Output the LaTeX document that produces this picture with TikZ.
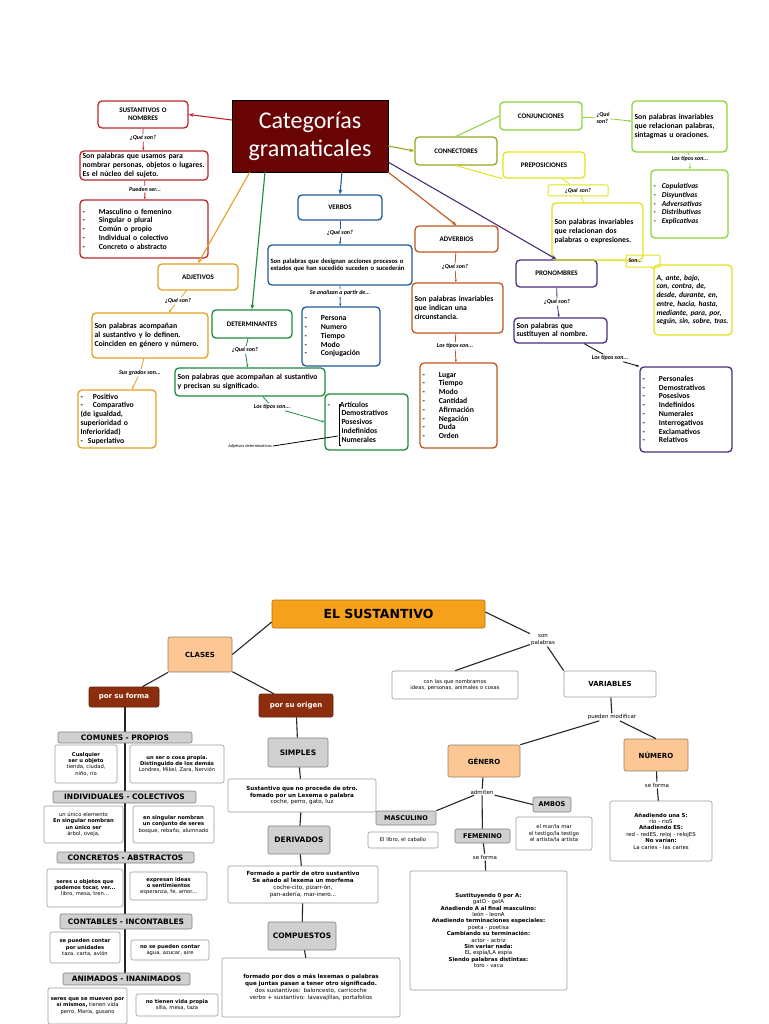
\documentclass[tikz,border=0pt]{standalone}
\usepackage{fontspec}
\setmainfont{Carlito}
\newfontfamily\dv{DejaVu Sans}
\usetikzlibrary{arrows.meta}
\definecolor{cR}{HTML}{B8262E}\definecolor{cO}{HTML}{E3A020}\definecolor{cG}{HTML}{1E8A3C}
\definecolor{cB}{HTML}{1F5A96}\definecolor{cBr}{HTML}{C0561F}\definecolor{cP}{HTML}{4A2C7C}
\definecolor{cOl}{HTML}{9AA61E}\definecolor{cL}{HTML}{8CD43A}\definecolor{cY}{HTML}{E2E21C}
\definecolor{tit}{HTML}{6A0505}\definecolor{oT}{HTML}{F6A11C}\definecolor{oL}{HTML}{FCC794}
\definecolor{bR}{HTML}{8C2E0D}\definecolor{gH}{HTML}{D0D0D0}
\hyphenpenalty=10000 \exhyphenpenalty=10000
\newcommand\bx[7]{%
 \pgfmathsetmacro\bxcx{(#2+#4)/2}\pgfmathsetmacro\bxcy{(#3+#5)/2}%
 \pgfmathsetmacro\bxw{#4-#2}\pgfmathsetmacro\bxh{#5-#3}\pgfmathsetmacro\bxt{#4-#2-5}%
 \node[#6,minimum width=\bxw pt,minimum height=\bxh pt,text width=\bxt pt] (#1) at (\bxcx,\bxcy) {#7};}
\tikzset{
 tb/.style={draw,rounded corners=4pt,line width=1.3pt,inner sep=2pt,font=\fontsize{7.7}{8.8}\selectfont\bfseries,align=left},
 tc/.style={tb,align=center,font=\fontsize{7}{8}\selectfont\bfseries},
 q/.style={font=\fontsize{6}{6.8}\selectfont\bfseries\itshape,inner sep=1pt},
 ar/.style={-{Stealth[length=5pt]},line width=1.1pt},
 bb/.style={draw=gray!80,rounded corners=2pt,line width=.6pt,fill=white,inner sep=1.5pt,font=\dv\fontsize{5.2}{6.3}\selectfont,align=center},
 gh/.style={bb,fill=gH,draw=gray,font=\dv\fontsize{7.5}{8}\selectfont\bfseries},
 lb/.style={bb,fill=oL,draw=gray!70!brown,font=\dv\fontsize{7}{8}\selectfont\bfseries},
 brw/.style={bb,fill=bR,draw=bR!70!black,text=white,font=\dv\fontsize{7}{8}\selectfont\bfseries},
 ln/.style={line width=1.1pt,black!85},
 sl/.style={font=\dv\fontsize{5.5}{6.5}\selectfont,inner sep=1pt,fill=white,align=center}
}
\newcommand\li{-\hspace{14pt}}
\begin{document}
\begin{tikzpicture}[x=1pt,y=-1pt]
\useasboundingbox[fill=white] (0,0) rectangle (768,1024);
% ===== top =====
\bx{T}{232}{100}{388}{172}{fill=tit,draw=black,text=white,inner sep=2pt,font=\fontsize{24}{28}\selectfont,align=center}{Categorías\\gramaticales}
\bx{S}{98}{101}{188}{128}{tc,draw=cR}{SUSTANTIVOS O\\NOMBRES}
\node[q] (Sq) at (143,138) {¿Qué son?};
\bx{S1}{80}{151}{208}{180}{tb,draw=cR}{Son palabras que usamos para nombrar personas, objetos o lugares. Es el núcleo del sujeto.}
\node[q] (Sp) at (145,189) {Pueden ser...};
\bx{S2}{80}{200}{208}{258}{tb,draw=cR}{\li Masculino o femenino\\\li Singular o plural\\\li Común o propio\\\li Individual o colectivo\\\li Concreto o abstracto}
\bx{A}{158}{264}{238}{290}{tc,draw=cO}{ADJETIVOS}
\node[q] (Aq) at (178,301) {¿Qué son?};
\bx{A1}{92}{313}{208}{358}{tb,draw=cO,font=\fontsize{7.8}{9.2}\selectfont\bfseries}{Son palabras acompañan al sustantivo y lo definen. Coinciden en género y número.}
\node[q] (Ag) at (140,373) {Sus grados son...};
\bx{A2}{78}{390}{156}{448}{tb,draw=cO}{-\hspace{10pt}Positivo\\-\hspace{10pt}Comparativo\\(de igualdad, superioridad o Inferioridad)\\- \ Superlativo}
\bx{D}{212}{310}{292}{338}{tc,draw=cG}{DETERMINANTES}
\node[q] (Dq) at (245,350) {¿Qué son?};
\bx{D1}{175}{368}{325}{396}{tb,draw=cG}{Son palabras que acompañan al sustantivo y precisan su significado.}
\node[q] (Dt) at (272,407) {Los tipos son...};
\bx{D2}{325}{394}{408}{450}{tb,draw=cG}{-\hspace{10pt}Artículos\\\hspace{14pt}Demostrativos\\\hspace{14pt}Posesivos\\\hspace{14pt}Indefinidos\\\hspace{14pt}Numerales}
\draw[line width=.7pt] (341,404) -- (339,404) -- (339,445) -- (341,445);
\node[q,font=\fontsize{4.3}{5}\selectfont] (Dad) at (250,446) {Adjetivos determinativos};
\coordinate (Dbr) at (338,436);
\draw[line width=.8pt] (Dad.east) -- (Dbr);
\bx{V}{298}{195}{382}{220}{tc,draw=cB}{VERBOS}
\node[q] (Vq) at (340,233) {¿Qué son?};
\bx{V1}{268}{245}{412}{285}{tb,draw=cB,font=\fontsize{6.6}{7.4}\selectfont\bfseries}{Son palabras que designan acciones procesos o estados que han sucedido suceden o sucederán}
\node[q] (Va) at (340,293) {Se analizan a partir de...};
\bx{V2}{302}{307}{380}{366}{tb,draw=cB}{\li Persona\\\li Numero\\\li Tiempo\\\li Modo\\\li Conjugación}
\bx{AD}{415}{226}{498}{252}{tc,draw=cBr}{ADVERBIOS}
\node[q] (ADq) at (455,267) {¿Qué son?};
\bx{AD1}{412}{283}{503}{333}{tb,draw=cBr}{Son palabras invariables que indican una circunstancia.}
\node[q] (ADt) at (455,346) {Los tipos son...};
\bx{AD2}{420}{363}{497}{448}{tb,draw=cBr}{\li Lugar\\\li Tiempo\\\li Modo\\\li Cantidad\\\li Afirmación\\\li Negación\\\li Duda\\\li Orden}
\bx{P}{516}{260}{597}{287}{tc,draw=cP}{PRONOMBRES}
\node[q] (Pq) at (557,302) {¿Qué son?};
\bx{P1}{514}{318}{607}{343}{tb,draw=cP}{Son palabras que sustituyen al nombre.}
\node[q] (Pt) at (610,358) {Los tipos son...};
\bx{P2}{640}{367}{732}{452}{tb,draw=cP}{\li Personales\\\li Demostrativos\\\li Posesivos\\\li Indefinidos\\\li Numerales\\\li Interrogativos\\\li Exclamativos\\\li Relativos}
\bx{C}{415}{137}{497}{165}{tc,draw=cOl}{CONNECTORES}
\bx{CJ}{500}{102}{582}{130}{tc,draw=cL}{CONJUNCIONES}
\node[q,align=left] (CJq) at (603,118) {¿Qué\\son?};
\bx{CJ1}{632}{101}{727}{152}{tb,draw=cL}{Son palabras invariables que relacionan palabras, sintagmas u oraciones.}
\node[q] (CJt) at (690,159) {Los tipos son...};
\bx{CJ2}{651}{170}{728}{238}{tb,draw=cL,font=\fontsize{7.5}{8.8}\selectfont\bfseries\itshape}{-\hspace{6pt}Copulativas\\-\hspace{6pt}Disyuntivas\\-\hspace{6pt}Adversativas\\-\hspace{6pt}Distributivas\\-\hspace{6pt}Explicativas}
\bx{PR}{503}{152}{585}{178}{tc,draw=cY}{PREPOSICIONES}
\bx{PRq}{548}{185}{608}{196}{tc,draw=cY,rounded corners=1pt,line width=1pt,font=\fontsize{5.8}{6.2}\selectfont\bfseries\itshape,inner sep=0pt}{¿Qué son?}
\bx{PR1}{552}{203}{643}{260}{tb,draw=cY}{Son palabras invariables que relacionan dos palabras o expresiones.}
\bx{PRs}{626}{255}{660}{267}{tb,draw=cY,rounded corners=1pt,line width=1pt,font=\fontsize{5.8}{6.2}\selectfont\bfseries\itshape,inner sep=0pt}{Son...}
\bx{PR2}{654}{265}{732}{335}{tb,draw=cY,font=\fontsize{7.5}{8.7}\selectfont\bfseries\itshape}{A, ante, bajo, con, contra, de, desde, durante, en, entre, hacia, hasta, mediante, para, por, según, sin, sobre, tras.}
% top connectors
\draw[ar,cR] (T.west|-0,120) -- (S.east);
\draw[ar,cO] (T.south west)++(18,0) -- (A.north);
\draw[ar,cG] (265,172) -- (D.north);
\draw[ar,cB] (342,172) -- (V.north);
\draw[ar,cBr] (388,172) -- (AD.north);
\draw[ar,cP] (388,162) -- (P.north);
\draw[ar,cOl] (388,146) -- (C.west);
\draw[line width=1pt,cL] (C.north) -- (CJ.west);
\draw[line width=1pt,cY] (C.south) -- (PR.south west);
\draw[line width=.8pt,cR,-{Stealth[length=3pt]}] (S) -- (Sq) -- (S1);
\draw[line width=.8pt,cR,-{Stealth[length=3pt]}] (S1) -- (Sp) -- (S2);
\draw[line width=.8pt,cO,-{Stealth[length=3pt]}] (A) -- (Aq) -- (A1);
\draw[line width=.8pt,cO,-{Stealth[length=3pt]}] (A1) -- (Ag) -- (A2);
\draw[line width=.8pt,cG,-{Stealth[length=3pt]}] (D) -- (Dq) -- (D1);
\draw[line width=.8pt,cG,-{Stealth[length=3pt]}] (D1) -- (Dt) -- (D2.west);
\draw[line width=.8pt,cB,-{Stealth[length=3pt]}] (V) -- (Vq) -- (V1);
\draw[line width=.8pt,cB,-{Stealth[length=3pt]}] (V1) -- (Va) -- (V2);
\draw[line width=.8pt,cBr,-{Stealth[length=3pt]}] (AD) -- (ADq) -- (AD1);
\draw[line width=.8pt,cBr,-{Stealth[length=3pt]}] (AD1) -- (ADt) -- (AD2);
\draw[line width=.8pt,cP,-{Stealth[length=3pt]}] (P) -- (Pq) -- (P1);
\draw[line width=.8pt,black,-{Stealth[length=3pt]}] (P1) -- (Pt) -- (P2.north west);
\draw[line width=.8pt,cL,-{Stealth[length=3pt]}] (CJ) -- (CJq) -- (CJ1);
\draw[line width=.8pt,cL,-{Stealth[length=3pt]}] (CJ1) -- (CJt) -- (CJ2);
\draw[line width=.8pt,cY] (PR) -- (PRq) -- (PR1);
\draw[line width=.8pt,cY] (PR1.south) -- (PRs) -- (PR2);
% ===== bottom =====
\coordinate (sp0) at (125,707); \coordinate (sp1) at (125,985);
\draw[ln] (sp0) -- (sp1);
\bx{E}{272}{600}{485}{628}{bb,fill=oT,draw=oT!70!black,font=\dv\fontsize{12.5}{14}\selectfont\bfseries}{EL SUSTANTIVO}
\bx{CL}{168}{637}{232}{672}{lb}{CLASES}
\node[sl] (sp) at (543,640) {son\\palabras};
\bx{cq}{392}{671}{518}{699}{bb}{con las que nombramos\\ideas, personas, animales o cosas}
\bx{VA}{564}{671}{656}{697}{bb,font=\dv\fontsize{7}{8}\selectfont\bfseries}{VARIABLES}
\node[sl] (pm) at (612,717) {pueden modificar};
\bx{GE}{448}{745}{520}{777}{lb}{GÉNERO}
\bx{NU}{624}{739}{688}{771}{lb}{NÚMERO}
\node[sl] (adm) at (482,792) {admiten};
\bx{MA}{376}{811}{436}{825}{gh,font=\dv\fontsize{6.5}{7}\selectfont\bfseries}{MASCULINO}
\bx{MA1}{368}{832}{438}{848}{bb}{El libro, el caballo}
\bx{FE}{455}{829}{510}{843}{gh,font=\dv\fontsize{6.5}{7}\selectfont\bfseries}{FEMENINO}
\node[sl] (fsf) at (485,857) {se forma};
\bx{FE1}{410}{871}{567}{990}{bb,font=\dv\fontsize{5.4}{6.4}\selectfont}{\textbf{Sustituyendo 0 por A:}\\gatO - gatA\\\textbf{Añadiendo A al final masculino:}\\león - leonA\\\textbf{Añadiendo terminaciones especiales:}\\poeta - poetisa\\\textbf{Cambiando su terminación:}\\actor - actriz\\\textbf{Sin variar nada:}\\EL espía/LA espía\\\textbf{Siendo palabras distintas:}\\toro - vaca}
\bx{AM}{533}{797}{571}{812}{gh,font=\dv\fontsize{6.5}{7}\selectfont\bfseries}{AMBOS}
\bx{AM1}{516}{817}{592}{850}{bb}{el mar/la mar\\el testigo/la testigo\\el artista/la artista}
\node[sl] (nsf) at (657,785) {se forma};
\bx{NU1}{610}{801}{712}{861}{bb,font=\dv\fontsize{5.4}{6.4}\selectfont}{\textbf{Añadiendo una S:}\\río - rioS\\\textbf{Añadiendo ES:}\\red - redES, reloj - relojES\\\textbf{No varían:}\\La caries - las caries}
\bx{PF}{89}{687}{159}{707}{brw}{por su forma}
\bx{PO}{259}{694}{333}{717}{brw}{por su origen}
\bx{h1}{58}{732}{192}{743}{gh}{COMUNES - PROPIOS}
\bx{h1a}{55}{745}{117}{783}{bb}{\textbf{Cualquier ser u objeto}\\tienda, ciudad, niño, río}
\bx{h1b}{130}{745}{224}{783}{bb}{\textbf{un ser o cosa propia. Distinguido de los demás}\\Londres, Mikel, Zara, Nervión}
\bx{h2}{53}{791}{196}{803}{gh}{INDIVIDUALES - COLECTIVOS}
\bx{h2a}{44}{806}{123}{843}{bb}{un único elemento\\\textbf{En singular nombran un único ser}\\árbol, oveja,}
\bx{h2b}{133}{806}{214}{843}{bb}{\textbf{en singular nombran un conjunto de seres}\\bosque, rebaño, alumnado}
\bx{h3}{57}{852}{194}{863}{gh}{CONCRETOS - ABSTRACTOS}
\bx{h3a}{47}{869}{123}{907}{bb}{\textbf{seres u objetos que podemos tocar, ver...}\\libro, mesa, tren...}
\bx{h3b}{130}{872}{207}{900}{bb}{\textbf{expresan ideas o sentimientos}\\esperanza, fe, amor...}
\bx{h4}{60}{914}{192}{929}{gh}{CONTABLES - INCONTABLES}
\bx{h4a}{50}{932}{120}{963}{bb}{\textbf{se pueden contar por unidades}\\taza, carta, avión}
\bx{h4b}{131}{940}{209}{960}{bb}{\textbf{no se pueden contar}\\agua, azucar, aire}
\bx{h5}{63}{973}{190}{985}{gh}{ANIMADOS - INANIMADOS}
\bx{h5a}{48}{988}{127}{1024}{bb}{\textbf{seres que se mueven por sí mismos,} tienen vida\\perro, María, gusano}
\bx{h5b}{136}{994}{218}{1016}{bb}{\textbf{no tienen vida propia}\\silla, mesa, taza}
\bx{SI}{268}{738}{328}{767}{gh}{SIMPLES}
\bx{SI1}{228}{779}{376}{812}{bb,font=\dv\fontsize{5.6}{6.8}\selectfont}{\textbf{Sustantivo que no procede de otro. fomado por un Lexema o palabra}\\coche, perro, gato, luz}
\bx{DE}{268}{826}{330}{854}{gh}{DERIVADOS}
\bx{DE1}{228}{866}{378}{903}{bb,font=\dv\fontsize{5.6}{6.8}\selectfont}{\textbf{Formado a partir de otro sustantivo Se añado al lexema un morfema}\\coche-cito, pizarr-ón,\\pan-adería, mar-inero...}
\bx{CO}{268}{922}{336}{950}{gh}{COMPUESTOS}
\bx{CO1}{222}{958}{400}{1017}{bb,font=\dv\fontsize{5.6}{6.8}\selectfont}{\textbf{formado por dos o más lexemas o palabras que juntas pasan a tener otro significado.}\\dos sustantivos: baloncesto, carricoche\\verbo + sustantivo: lavavajillas, portafolios}
% bottom connectors
\draw[ln] (E.west) ++(0,8) -- (CL.east);
\draw[ln] (E.east) ++(0,-2) -- (sp);
\draw[ln] (sp) -- (cq.north);
\draw[ln] (sp) -- (VA.north west);
\draw[ln] (VA) -- (pm);
\draw[ln] (pm) -- (GE.north east);
\draw[ln] (pm) -- (NU.north);
\draw[ln] (GE) -- (adm);
\draw[ln] (adm) -- (MA.north east);
\draw[ln] (adm) -- (FE);
\draw[ln] (adm) -- (AM.west);
\draw[ln] (FE) -- (fsf) -- (FE1);
\draw[ln] (NU) -- (nsf) -- (NU1);
\draw[ln] (CL) -- (PF);
\draw[ln] (CL) -- (PO);
\draw[ln] (PO) -- (SI) -- (SI1) -- (DE) -- (DE1) -- (CO) -- (CO1);
\end{tikzpicture}
\end{document}
